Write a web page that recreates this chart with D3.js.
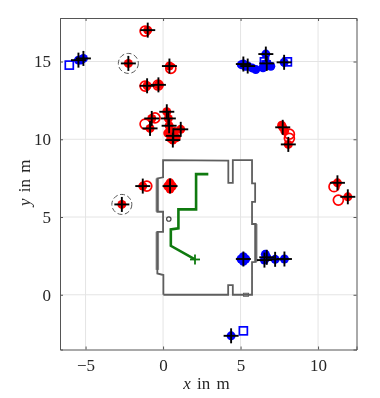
<!DOCTYPE html>
<html>
<head>
<meta charset="utf-8">
<script src="https://cdn.jsdelivr.net/npm/d3@7/dist/d3.min.js"></script>
<style>
  html, body { margin: 0; padding: 0; background: #fff; }
  svg { display: block; filter: blur(0.4px); }
  text { font-family: "Liberation Serif", serif; fill: #262626; }
</style>
</head>
<body>
<svg></svg>
<script>
const width = 380;
const height = 398;

// limits of the axes, in metres
const xDomain = [-6.65, 12.48];
const yDomain = [-3.52, 17.8];
const xTicks = [-5, 0, 5, 10];
const yTicks = [0, 5, 10, 15];

// estimated landmarks, red group
const redCrosses = [
  [-0.99, 17.02], [-2.24, 14.88], [0.41, 14.71], [-1.03, 13.44], [-0.30, 13.5],
  [-0.73, 11.34], [-0.84, 10.70], [0.24, 11.77], [0.34, 11.34], [0.39, 10.87],
  [1.14, 10.64], [0.66, 10.22], [0.63, 9.95], [-1.31, 6.99], [0.45, 6.99],
  [-2.66, 5.81], [7.72, 10.77], [8.08, 9.67], [11.25, 7.20], [11.92, 6.30]
];
// red dots with no cross on top, they thicken the clusters
const redDots = [
  [0.3, 10.4], [0.75, 10.5], [0.5, 10.05], [0.85, 10.1], [0.3, 6.99], [0.6, 6.99],
  [0.45, 7.2], [0.45, 6.8], [7.85, 10.55], [7.65, 10.9]
];
// true positions, red group
const redCircles = [
  [-1.16, 16.96], [0.50, 14.56], [-1.16, 13.42], [-0.32, 13.49], [-0.52, 11.38],
  [-1.16, 10.98], [-1.05, 6.99], [8.15, 10.33], [8.15, 10.06], [11.03, 6.95],
  [11.31, 6.09]
];
// estimated landmarks, blue group
const blueCrosses = [
  [-5.46, 15.09], [-5.14, 15.20], [5.18, 14.84], [5.46, 14.71], [6.63, 15.48],
  [6.69, 14.88], [7.81, 14.95], [5.18, 2.30], [6.54, 2.23], [6.69, 2.41],
  [7.23, 2.28], [7.83, 2.30], [4.39, -2.64]
];
// blue dots with no cross on top
const blueDots = [
  [5.74, 14.59], [5.98, 14.49], [5.05, 14.8], [5.3, 14.7], [6.45, 14.6], [6.95, 14.7],
  [5.03, 2.3], [5.33, 2.3], [5.18, 2.45], [5.18, 2.15], [6.6, 2.6], [-5.3, 15.1]
];
const blueSquares = [
  [-6.05, 14.77], [6.54, 14.98], [6.65, 14.78], [8.02, 14.98], [5.18, -2.32]
];
const dashedRings = [[-2.24, 14.88], [-2.66, 5.81]];

// floor plan
const wallPath = [
  [0.02, 0], [0.02, 1.27], [-0.37, 1.37], [-0.37, 4.05], [0, 4.05], [0, 5.34],
  [-0.37, 5.34], [-0.37, 7.48], [0, 7.55], [0, 8.66], [4.21, 8.63], [4.21, 7.2],
  [4.5, 7.2], [4.5, 8.66], [5.74, 8.66], [5.74, 7.16], [5.94, 7.16], [5.94, 5.98],
  [5.74, 5.98], [5.74, 4.55], [5.98, 4.55], [5.98, 2.12], [5.74, 2.1], [5.74, 0],
  [4.5, 0], [4.5, 0.62], [4.2, 0.62], [4.2, 0], [0.02, 0]
];
const thickWalls = [
  [[-0.37, 1.6], [-0.37, 4.05]],
  [[-0.37, 5.34], [-0.37, 7.48]],
  [[5.98, 2.12], [5.98, 4.55]]
];
const trajectory = [
  [2.92, 7.76], [2.13, 7.76], [2.13, 5.49], [0.99, 5.49], [0.99, 4.27],
  [0.5, 4.2], [0.5, 3.15], [2.06, 2.27]
];
const trajectoryEnd = [[2.06, 2.27]];
const startRing = [[0.37, 4.87]];
const doorBox = [[5.35, 0]];

const margin = { left: 60, right: 23.5, top: 18, bottom: 48.5 };

const svg = d3.select("svg")
  .attr("width", width)
  .attr("height", height);

const x = d3.scaleLinear().domain(xDomain).range([margin.left, width - margin.right]);
const y = d3.scaleLinear().domain(yDomain).range([height - margin.bottom, margin.top]);
const line = d3.line().x(d => x(d[0])).y(d => y(d[1]));

// grid
svg.append("g").selectAll("line")
  .data(xTicks)
  .join("line")
  .attr("x1", d => x(d)).attr("x2", d => x(d))
  .attr("y1", y.range()[0]).attr("y2", y.range()[1])
  .attr("stroke", "#e4e4e4");
svg.append("g").selectAll("line")
  .data(yTicks)
  .join("line")
  .attr("x1", x.range()[0]).attr("x2", x.range()[1])
  .attr("y1", d => y(d)).attr("y2", d => y(d))
  .attr("stroke", "#e4e4e4");

// walls
svg.append("g").selectAll("path")
  .data(thickWalls)
  .join("path")
  .attr("d", line)
  .attr("fill", "none")
  .attr("stroke", "#8c8c8c")
  .attr("stroke-width", 3.5);
svg.append("path")
  .attr("d", line(wallPath))
  .attr("fill", "none")
  .attr("stroke", "#5e5e5e")
  .attr("stroke-width", 1.8);
svg.selectAll(".door")
  .data(doorBox)
  .join("rect")
  .attr("class", "door")
  .attr("x", d => x(d[0]) - 2.5)
  .attr("y", d => y(d[1]) - 1.5)
  .attr("width", 5)
  .attr("height", 3)
  .attr("fill", "none")
  .attr("stroke", "#5e5e5e");

// trajectory
svg.append("path")
  .attr("d", line(trajectory))
  .attr("fill", "none")
  .attr("stroke", "#0f7a0f")
  .attr("stroke-width", 2.6);
function cross(group, data, r, color, w) {
  group.selectAll("path.h").data(data).join("path").attr("class", "h")
    .attr("d", d => `M${x(d[0]) - r},${y(d[1])}H${x(d[0]) + r}`)
    .attr("stroke", color).attr("stroke-width", w);
  group.selectAll("path.v").data(data).join("path").attr("class", "v")
    .attr("d", d => `M${x(d[0])},${y(d[1]) - r}V${y(d[1]) + r}`)
    .attr("stroke", color).attr("stroke-width", w);
}
cross(svg.append("g"), trajectoryEnd, 5, "#0f7a0f", 1.8);
svg.append("g").selectAll("circle")
  .data(startRing)
  .join("circle")
  .attr("cx", d => x(d[0])).attr("cy", d => y(d[1]))
  .attr("r", 2.2)
  .attr("fill", "none")
  .attr("stroke", "#444")
  .attr("stroke-width", 1.2);

// true positions
svg.append("g").selectAll("circle")
  .data(redCircles)
  .join("circle")
  .attr("cx", d => x(d[0])).attr("cy", d => y(d[1]))
  .attr("r", 5)
  .attr("fill", "none")
  .attr("stroke", "#f00")
  .attr("stroke-width", 1.7);
svg.append("g").selectAll("rect")
  .data(blueSquares)
  .join("rect")
  .attr("x", d => x(d[0]) - 4).attr("y", d => y(d[1]) - 4)
  .attr("width", 8).attr("height", 8)
  .attr("fill", "none")
  .attr("stroke", "#00f")
  .attr("stroke-width", 1.7);

// estimates
svg.append("g").selectAll("circle")
  .data(redCrosses.concat(redDots))
  .join("circle")
  .attr("cx", d => x(d[0])).attr("cy", d => y(d[1]))
  .attr("r", 4.5)
  .attr("fill", "#f00");
svg.append("g").selectAll("circle")
  .data(blueCrosses.concat(blueDots))
  .join("circle")
  .attr("cx", d => x(d[0])).attr("cy", d => y(d[1]))
  .attr("r", 4.5)
  .attr("fill", "#00f");
cross(svg.append("g"), redCrosses, 7.5, "#000", 1.9);
cross(svg.append("g"), blueCrosses, 7.5, "#000", 1.9);

svg.append("g").selectAll("circle")
  .data(dashedRings)
  .join("circle")
  .attr("cx", d => x(d[0])).attr("cy", d => y(d[1]))
  .attr("r", 10)
  .attr("fill", "none")
  .attr("stroke", "#555")
  .attr("stroke-dasharray", "5 2.5");

// axes box and inward ticks
const tickFmt = d => d < 0 ? "\u2212" + Math.abs(d) : d;
const axes = [
  [d3.axisBottom(x).tickValues(xTicks).tickSize(-3).tickPadding(9).tickFormat(tickFmt), `translate(0,${y.range()[0]})`],
  [d3.axisTop(x).tickValues(xTicks).tickSize(-3).tickFormat(""), `translate(0,${y.range()[1]})`],
  [d3.axisLeft(y).tickValues(yTicks).tickSize(-3).tickPadding(9).tickFormat(tickFmt), `translate(${x.range()[0]},0)`],
  [d3.axisRight(y).tickValues(yTicks).tickSize(-3).tickFormat(""), `translate(${x.range()[1]},0)`]
];
axes.forEach(([axis, tr]) => {
  const g = svg.append("g").attr("transform", tr).call(axis);
  g.selectAll("path, line").attr("stroke", "#555");
  g.selectAll("text").attr("font-size", 17).attr("font-family", "Liberation Serif").attr("fill", "#262626");
});

// axis titles
const xLabel = svg.append("text")
  .attr("x", 206.5)
  .attr("y", 389)
  .attr("text-anchor", "middle")
  .attr("font-size", 17)
  .attr("word-spacing", 2);
xLabel.append("tspan").attr("font-style", "italic").text("x");
xLabel.append("tspan").text(" in m");

const yLabel = svg.append("text")
  .attr("transform", `translate(30,${y(7.2)}) rotate(-90)`)
  .attr("text-anchor", "middle")
  .attr("font-size", 17)
  .attr("word-spacing", 2);
yLabel.append("tspan").attr("font-style", "italic").text("y");
yLabel.append("tspan").text(" in m");
</script>
</body>
</html>
